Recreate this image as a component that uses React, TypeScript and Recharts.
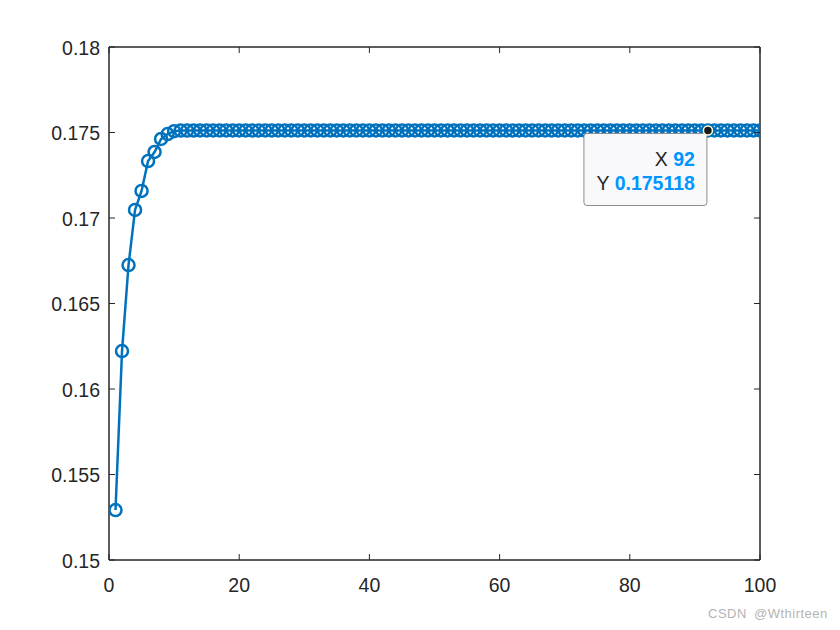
import React from 'react';
import { LineChart, Line, XAxis, YAxis, ReferenceDot, ReferenceArea } from 'recharts';

const xValues = [
  1, 2, 3, 4, 5, 6, 7, 8, 9, 10, 11, 12, 13, 14, 15, 16, 17, 18, 19, 20,
  21, 22, 23, 24, 25, 26, 27, 28, 29, 30, 31, 32, 33, 34, 35, 36, 37, 38, 39, 40,
  41, 42, 43, 44, 45, 46, 47, 48, 49, 50, 51, 52, 53, 54, 55, 56, 57, 58, 59, 60,
  61, 62, 63, 64, 65, 66, 67, 68, 69, 70, 71, 72, 73, 74, 75, 76, 77, 78, 79, 80,
  81, 82, 83, 84, 85, 86, 87, 88, 89, 90, 91, 92, 93, 94, 95, 96, 97, 98, 99, 100,
];

const yValues = [
  0.15292, 0.16222, 0.16725, 0.17047, 0.17158, 0.17333, 0.17386, 0.17462, 0.17491, 0.17508,
  0.175112, 0.175116, 0.175117, 0.175118, 0.175118, 0.175118, 0.175118, 0.175118, 0.175118, 0.175118,
  0.175118, 0.175118, 0.175118, 0.175118, 0.175118, 0.175118, 0.175118, 0.175118, 0.175118, 0.175118,
  0.175118, 0.175118, 0.175118, 0.175118, 0.175118, 0.175118, 0.175118, 0.175118, 0.175118, 0.175118,
  0.175118, 0.175118, 0.175118, 0.175118, 0.175118, 0.175118, 0.175118, 0.175118, 0.175118, 0.175118,
  0.175118, 0.175118, 0.175118, 0.175118, 0.175118, 0.175118, 0.175118, 0.175118, 0.175118, 0.175118,
  0.175118, 0.175118, 0.175118, 0.175118, 0.175118, 0.175118, 0.175118, 0.175118, 0.175118, 0.175118,
  0.175118, 0.175118, 0.175118, 0.175118, 0.175118, 0.175118, 0.175118, 0.175118, 0.175118, 0.175118,
  0.175118, 0.175118, 0.175118, 0.175118, 0.175118, 0.175118, 0.175118, 0.175118, 0.175118, 0.175118,
  0.175118, 0.175118, 0.175118, 0.175118, 0.175118, 0.175118, 0.175118, 0.175118, 0.175118, 0.175118,
];

const xTicks = [0, 20, 40, 60, 80, 100];
const yTicks = [0.15, 0.155, 0.16, 0.165, 0.17, 0.175, 0.18];

const tipX = 92;
const tipY = 0.175118;
const tipLabelX = 'X';
const tipLabelY = 'Y';
const tipValueX = '92';
const tipValueY = '0.175118';
const watermark = 'CSDN @Wthirteen';

const data = xValues.map((x, i) => ({ x, y: yValues[i] }));

const FONT = '"Liberation Sans", Arial, Helvetica, sans-serif';
const AXIS = '#262626';
const BLUE = '#0072BD';
const TIP_BLUE = '#0096FF';
const FS = 19.5;

const fmtY = (v: number) => String(parseFloat(v.toFixed(3)));

const BottomTick = (props: any) => {
  const { x, y, payload } = props;
  return (
    <g>
      <line x1={x} y1={y} x2={x} y2={y - 6} stroke={AXIS} strokeWidth={1} />
      <text x={x} y={y + 32} textAnchor="middle" fill={AXIS} fontSize={FS} fontFamily={FONT}>
        {payload.value}
      </text>
    </g>
  );
};

const LeftTick = (props: any) => {
  const { x, y, payload } = props;
  return (
    <g>
      <line x1={x} y1={y} x2={x + 6} y2={y} stroke={AXIS} strokeWidth={1} />
      <text x={x - 9} y={y + 7.5} textAnchor="end" fill={AXIS} fontSize={FS} fontFamily={FONT}>
        {fmtY(payload.value)}
      </text>
    </g>
  );
};

const TopTick = (props: any) => {
  const { x, y } = props;
  return <line x1={x} y1={y} x2={x} y2={y + 6} stroke={AXIS} strokeWidth={1} />;
};

const RightTick = (props: any) => {
  const { x, y } = props;
  return <line x1={x} y1={y} x2={x - 6} y2={y} stroke={AXIS} strokeWidth={1} />;
};

const Datatip = (props: any) => {
  const { cx, cy } = props;
  if (cx == null || cy == null) return null;
  const left = cx - 124;
  const top = cy + 3;
  return (
    <g>
      <rect x={left} y={top} width={123} height={72} rx={3} ry={3} fill="#F9F9FC" stroke="#8C8C8C" strokeWidth={1} />
      <text x={cx - 13} y={top + 33} textAnchor="end" fontSize={FS} fontFamily={FONT} fill={AXIS}>
        <tspan>{tipLabelX} </tspan>
        <tspan fill={TIP_BLUE} fontWeight="bold">{tipValueX}</tspan>
      </text>
      <text x={cx - 13} y={top + 57} textAnchor="end" fontSize={FS} fontFamily={FONT} fill={AXIS}>
        <tspan>{tipLabelY} </tspan>
        <tspan fill={TIP_BLUE} fontWeight="bold">{tipValueY}</tspan>
      </text>
      <circle cx={cx} cy={cy} r={4.5} fill="#1a1a1a" stroke="#FFFFE0" strokeWidth={1.5} />
    </g>
  );
};

export default function App() {
  return (
    <div style={{ position: 'relative', width: 832, height: 622 }}>
      <LineChart
        width={832}
        height={622}
        data={data}
        margin={{ top: 38, right: 79, bottom: 0, left: 0 }}
        style={{ background: '#ffffff' }}
      >
        <XAxis
          xAxisId={0}
          dataKey="x"
          type="number"
          domain={[0, 100]}
          ticks={xTicks}
          allowDataOverflow
          height={70}
          tickSize={0}
          tickMargin={0}
          tickLine={false}
          axisLine={{ stroke: AXIS, strokeWidth: 1 }}
          tick={<BottomTick />}
          interval={0}
        />
        <XAxis
          xAxisId="top"
          orientation="top"
          dataKey="x"
          type="number"
          domain={[0, 100]}
          ticks={xTicks}
          allowDataOverflow
          height={1}
          tickSize={0}
          tickMargin={0}
          tickLine={false}
          axisLine={{ stroke: AXIS, strokeWidth: 1 }}
          tick={<TopTick />}
          interval={0}
        />
        <YAxis
          yAxisId={0}
          type="number"
          domain={[0.15, 0.18]}
          ticks={yTicks}
          allowDataOverflow
          width={101}
          tickSize={0}
          tickMargin={0}
          tickLine={false}
          axisLine={{ stroke: AXIS, strokeWidth: 1 }}
          tick={<LeftTick />}
          interval={0}
        />
        <YAxis
          yAxisId="right"
          orientation="right"
          type="number"
          domain={[0.15, 0.18]}
          ticks={yTicks}
          allowDataOverflow
          width={1}
          tickSize={0}
          tickMargin={0}
          tickLine={false}
          axisLine={{ stroke: AXIS, strokeWidth: 1 }}
          tick={<RightTick />}
          interval={0}
        />
        <ReferenceArea
          xAxisId={0}
          yAxisId={0}
          x1={0}
          x2={100}
          y1={0.15}
          y2={0.18}
          fill="none"
          stroke={AXIS}
          strokeWidth={1}
          ifOverflow="visible"
        />
        <Line
          xAxisId="top"
          yAxisId="right"
          dataKey="y"
          type="linear"
          stroke="none"
          strokeWidth={0}
          dot={false}
          activeDot={false}
          legendType="none"
          isAnimationActive={false}
        />
        <Line
          xAxisId={0}
          yAxisId={0}
          dataKey="y"
          type="linear"
          stroke={BLUE}
          strokeWidth={2.5}
          dot={{ r: 6, fill: 'none', stroke: BLUE, strokeWidth: 2.5 }}
          activeDot={false}
          isAnimationActive={false}
        />
        <ReferenceDot
          xAxisId={0}
          yAxisId={0}
          x={tipX}
          y={tipY}
          r={4}
          shape={(p: any) => <Datatip {...p} />}
          ifOverflow="visible"
        />
      </LineChart>
      <div
        style={{
          position: 'absolute',
          left: 700,
          top: 598,
          fontFamily: FONT,
          fontSize: 13,
          color: '#B4B4B4',
          whiteSpace: 'nowrap',
          letterSpacing: 0.5,
          wordSpacing: 3,
        }}
      >
        {watermark}
      </div>
    </div>
  );
}
